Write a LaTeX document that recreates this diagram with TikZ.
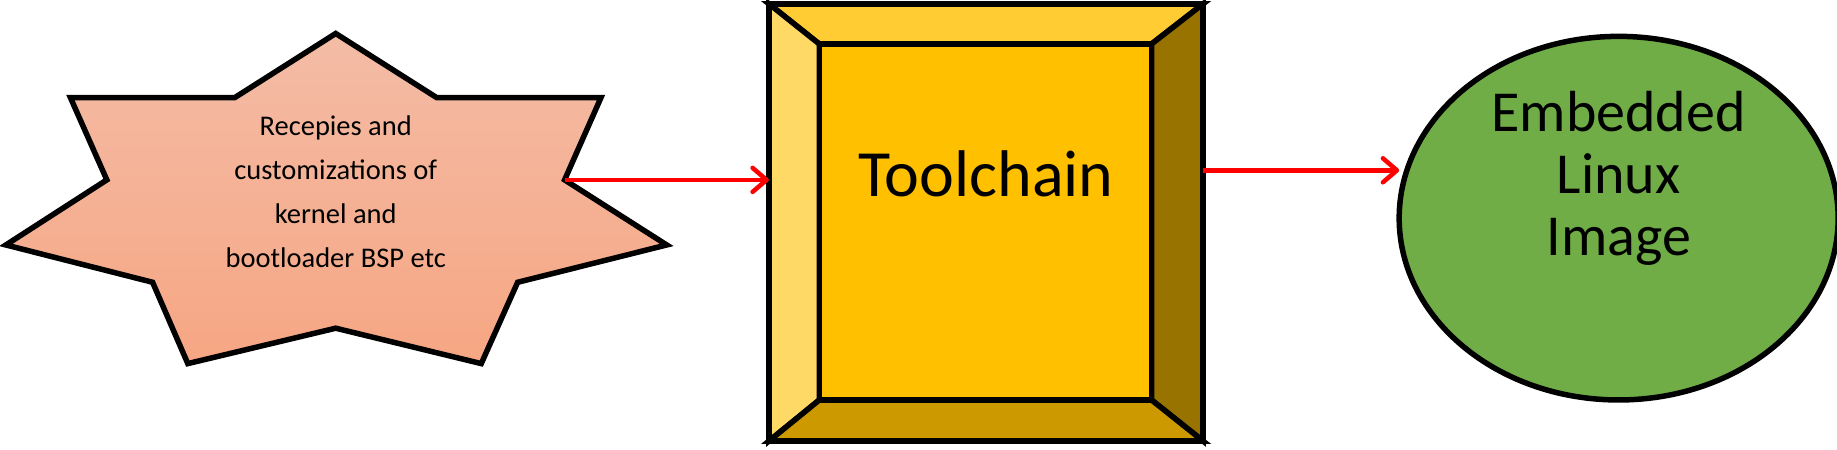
\documentclass[tikz,border=0pt]{standalone}
\usepackage{fontspec}
\setmainfont{Carlito}
\usetikzlibrary{arrows.meta}
\definecolor{starT}{HTML}{F4BCA6}
\definecolor{starB}{HTML}{F6A683}
\definecolor{bT}{HTML}{FFCC33}
\definecolor{bL}{HTML}{FFD966}
\definecolor{bR}{HTML}{997300}
\definecolor{bB}{HTML}{CC9900}
\definecolor{bC}{HTML}{FFC000}
\definecolor{ellG}{HTML}{70AD47}
\tikzset{edge/.style={draw=black,line width=5.5pt,line join=miter},
 conn/.style={red,line width=4.5pt,-{Straight Barb[length=14pt,width=24pt,line width=4.5pt,round]}}}
\begin{document}
\begin{tikzpicture}[x=1.174pt,y=-0.957pt]
\useasboundingbox (0,0) rectangle (1565,470);
% star
\path[edge,top color=starT,bottom color=starB] (286,35)--(372,102)--(512,102)--(481,188)--(568,256)--(441,295)--(410,380)--(286,343)--(160,380)--(130,295)--(5,256)--(91,188)--(60,102)--(200,102)--cycle;
\node[align=center,font=\fontsize{28.5}{44}\selectfont] (star) at (286,200) {Recepies and\\customizations of\\kernel and\\bootloader BSP etc};
\coordinate (sr) at (481,188);
% box
\path[edge,fill=bT] (655,4)--(1025,4)--(981,46)--(698,46)--cycle;
\path[edge,fill=bL] (655,4)--(698,46)--(698,418)--(655,461)--cycle;
\path[edge,fill=bR] (1025,4)--(1025,461)--(981,418)--(981,46)--cycle;
\path[edge,fill=bB] (655,461)--(1025,461)--(981,418)--(698,418)--cycle;
\path[edge,fill=bC] (698,46) rectangle (981,418);
\draw[edge] (655,4) rectangle (1025,461);
\node[font=\fontsize{66}{68}\selectfont] (tc) at (840,182) {Toolchain};
\coordinate (bl) at (655,188);
\coordinate (br) at (1025,178);
% ellipse
\path[edge,fill=ellG] (1379,228) ellipse [x radius=187, y radius=190];
\node[align=center,font=\fontsize{58}{62}\selectfont] (el) at (1379,186) {Embedded\\Linux\\Image};
\coordinate (ell) at (1192,178);
\draw[conn] (sr) -- (bl);
\draw[conn] (br) -- (ell);
\end{tikzpicture}
\end{document}
